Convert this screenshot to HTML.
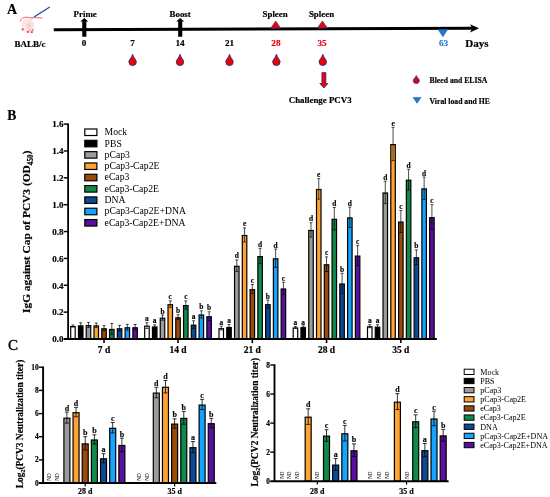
<!DOCTYPE html>
<html><head><meta charset="utf-8"><title>Figure</title>
<style>html,body{margin:0;padding:0;background:#fff}svg{display:block}</style></head>
<body><svg width="550" height="497" viewBox="0 0 550 497" font-family="'Liberation Serif', serif" fill="#000">
<rect width="550" height="497" fill="#fff"/>
<rect x="70.70" y="326.60" width="4.50" height="12.40" fill="#ffffff" stroke="#000" stroke-width="1.2"/>
<path d="M72.95 325.00V327.00M71.45 325.00h3.0M71.45 327.00h3.0" stroke="#000" stroke-width="0.7" fill="none"/>
<rect x="78.47" y="325.90" width="4.50" height="13.10" fill="#000000" stroke="#000" stroke-width="1.2"/>
<path d="M80.72 322.80V327.80M79.22 322.80h3.0M79.22 327.80h3.0" stroke="#000" stroke-width="0.7" fill="none"/>
<rect x="86.24" y="325.60" width="4.50" height="13.40" fill="#9c9c9c" stroke="#000" stroke-width="1.2"/>
<path d="M88.49 322.40V327.60M86.99 322.40h3.0M86.99 327.60h3.0" stroke="#000" stroke-width="0.7" fill="none"/>
<rect x="94.01" y="325.90" width="4.50" height="13.10" fill="#ffa433" stroke="#000" stroke-width="1.2"/>
<path d="M96.26 323.10V327.50M94.76 323.10h3.0M94.76 327.50h3.0" stroke="#000" stroke-width="0.7" fill="none"/>
<rect x="101.78" y="328.80" width="4.50" height="10.20" fill="#9c4a0a" stroke="#000" stroke-width="1.2"/>
<path d="M104.03 325.60V330.80M102.53 325.60h3.0M102.53 330.80h3.0" stroke="#000" stroke-width="0.7" fill="none"/>
<rect x="109.55" y="329.50" width="4.50" height="9.50" fill="#10894a" stroke="#000" stroke-width="1.2"/>
<path d="M111.80 323.40V334.40M110.30 323.40h3.0M110.30 334.40h3.0" stroke="#000" stroke-width="0.7" fill="none"/>
<rect x="117.32" y="328.80" width="4.50" height="10.20" fill="#0d4a94" stroke="#000" stroke-width="1.2"/>
<path d="M119.57 325.30V331.10M118.07 325.30h3.0M118.07 331.10h3.0" stroke="#000" stroke-width="0.7" fill="none"/>
<rect x="125.09" y="327.80" width="4.50" height="11.20" fill="#14a3ff" stroke="#000" stroke-width="1.2"/>
<path d="M127.34 324.30V330.10M125.84 324.30h3.0M125.84 330.10h3.0" stroke="#000" stroke-width="0.7" fill="none"/>
<rect x="132.86" y="327.80" width="4.50" height="11.20" fill="#5a0fa0" stroke="#000" stroke-width="1.2"/>
<path d="M135.11 324.50V329.90M133.61 324.50h3.0M133.61 329.90h3.0" stroke="#000" stroke-width="0.7" fill="none"/>
<rect x="144.70" y="326.20" width="4.50" height="12.80" fill="#ffffff" stroke="#000" stroke-width="1.2"/>
<path d="M146.95 322.70V328.50M145.45 322.70h3.0M145.45 328.50h3.0" stroke="#000" stroke-width="0.7" fill="none"/>
<text x="146.95" y="321.20" font-size="7.4" font-weight="bold" text-anchor="middle" stroke="#000" stroke-width="0.15">a</text>
<rect x="152.47" y="327.00" width="4.50" height="12.00" fill="#000000" stroke="#000" stroke-width="1.2"/>
<path d="M154.72 324.90V327.90M153.22 324.90h3.0M153.22 327.90h3.0" stroke="#000" stroke-width="0.7" fill="none"/>
<text x="154.72" y="323.40" font-size="7.4" font-weight="bold" text-anchor="middle" stroke="#000" stroke-width="0.15">a</text>
<rect x="160.24" y="318.20" width="4.50" height="20.80" fill="#9c9c9c" stroke="#000" stroke-width="1.2"/>
<path d="M162.49 315.00V320.20M160.99 315.00h3.0M160.99 320.20h3.0" stroke="#000" stroke-width="0.7" fill="none"/>
<text x="162.49" y="313.50" font-size="7.4" font-weight="bold" text-anchor="middle" stroke="#000" stroke-width="0.15">b</text>
<rect x="168.01" y="304.70" width="4.50" height="34.30" fill="#ffa433" stroke="#000" stroke-width="1.2"/>
<path d="M170.26 300.90V307.30M168.76 300.90h3.0M168.76 307.30h3.0" stroke="#000" stroke-width="0.7" fill="none"/>
<text x="170.26" y="299.40" font-size="7.4" font-weight="bold" text-anchor="middle" stroke="#000" stroke-width="0.15">c</text>
<rect x="175.78" y="317.80" width="4.50" height="21.20" fill="#9c4a0a" stroke="#000" stroke-width="1.2"/>
<path d="M178.03 314.70V319.70M176.53 314.70h3.0M176.53 319.70h3.0" stroke="#000" stroke-width="0.7" fill="none"/>
<text x="178.03" y="313.20" font-size="7.4" font-weight="bold" text-anchor="middle" stroke="#000" stroke-width="0.15">b</text>
<rect x="183.55" y="305.60" width="4.50" height="33.40" fill="#10894a" stroke="#000" stroke-width="1.2"/>
<path d="M185.80 300.90V309.10M184.30 300.90h3.0M184.30 309.10h3.0" stroke="#000" stroke-width="0.7" fill="none"/>
<text x="185.80" y="299.40" font-size="7.4" font-weight="bold" text-anchor="middle" stroke="#000" stroke-width="0.15">c</text>
<rect x="191.32" y="325.20" width="4.50" height="13.80" fill="#0d4a94" stroke="#000" stroke-width="1.2"/>
<path d="M193.57 320.80V328.40M192.07 320.80h3.0M192.07 328.40h3.0" stroke="#000" stroke-width="0.7" fill="none"/>
<text x="193.57" y="319.30" font-size="7.4" font-weight="bold" text-anchor="middle" stroke="#000" stroke-width="0.15">a</text>
<rect x="199.09" y="315.00" width="4.50" height="24.00" fill="#14a3ff" stroke="#000" stroke-width="1.2"/>
<path d="M201.34 310.80V318.00M199.84 310.80h3.0M199.84 318.00h3.0" stroke="#000" stroke-width="0.7" fill="none"/>
<text x="201.34" y="309.30" font-size="7.4" font-weight="bold" text-anchor="middle" stroke="#000" stroke-width="0.15">b</text>
<rect x="206.86" y="316.80" width="4.50" height="22.20" fill="#5a0fa0" stroke="#000" stroke-width="1.2"/>
<path d="M209.11 311.80V320.60M207.61 311.80h3.0M207.61 320.60h3.0" stroke="#000" stroke-width="0.7" fill="none"/>
<text x="209.11" y="310.30" font-size="7.4" font-weight="bold" text-anchor="middle" stroke="#000" stroke-width="0.15">b</text>
<rect x="219.00" y="328.70" width="4.50" height="10.30" fill="#ffffff" stroke="#000" stroke-width="1.2"/>
<path d="M221.25 326.20V330.00M219.75 326.20h3.0M219.75 330.00h3.0" stroke="#000" stroke-width="0.7" fill="none"/>
<text x="221.25" y="324.70" font-size="7.4" font-weight="bold" text-anchor="middle" stroke="#000" stroke-width="0.15">a</text>
<rect x="226.77" y="327.50" width="4.50" height="11.50" fill="#000000" stroke="#000" stroke-width="1.2"/>
<path d="M229.02 324.50V329.30M227.52 324.50h3.0M227.52 329.30h3.0" stroke="#000" stroke-width="0.7" fill="none"/>
<text x="229.02" y="323.00" font-size="7.4" font-weight="bold" text-anchor="middle" stroke="#000" stroke-width="0.15">a</text>
<rect x="234.54" y="266.30" width="4.50" height="72.70" fill="#9c9c9c" stroke="#000" stroke-width="1.2"/>
<path d="M236.79 259.90V271.50M235.29 259.90h3.0M235.29 271.50h3.0" stroke="#000" stroke-width="0.7" fill="none"/>
<text x="236.79" y="258.40" font-size="7.4" font-weight="bold" text-anchor="middle" stroke="#000" stroke-width="0.15">d</text>
<rect x="242.31" y="235.50" width="4.50" height="103.50" fill="#ffa433" stroke="#000" stroke-width="1.2"/>
<path d="M244.56 227.90V241.90M243.06 227.90h3.0M243.06 241.90h3.0" stroke="#000" stroke-width="0.7" fill="none"/>
<text x="244.56" y="226.40" font-size="7.4" font-weight="bold" text-anchor="middle" stroke="#000" stroke-width="0.15">e</text>
<rect x="250.08" y="289.70" width="4.50" height="49.30" fill="#9c4a0a" stroke="#000" stroke-width="1.2"/>
<path d="M252.33 284.50V293.70M250.83 284.50h3.0M250.83 293.70h3.0" stroke="#000" stroke-width="0.7" fill="none"/>
<text x="252.33" y="283.00" font-size="7.4" font-weight="bold" text-anchor="middle" stroke="#000" stroke-width="0.15">c</text>
<rect x="257.85" y="256.60" width="4.50" height="82.40" fill="#10894a" stroke="#000" stroke-width="1.2"/>
<path d="M260.10 248.30V263.70M258.60 248.30h3.0M258.60 263.70h3.0" stroke="#000" stroke-width="0.7" fill="none"/>
<text x="260.10" y="246.80" font-size="7.4" font-weight="bold" text-anchor="middle" stroke="#000" stroke-width="0.15">d</text>
<rect x="265.62" y="304.70" width="4.50" height="34.30" fill="#0d4a94" stroke="#000" stroke-width="1.2"/>
<path d="M267.87 300.00V308.20M266.37 300.00h3.0M266.37 308.20h3.0" stroke="#000" stroke-width="0.7" fill="none"/>
<text x="267.87" y="298.50" font-size="7.4" font-weight="bold" text-anchor="middle" stroke="#000" stroke-width="0.15">b</text>
<rect x="273.39" y="258.80" width="4.50" height="80.20" fill="#14a3ff" stroke="#000" stroke-width="1.2"/>
<path d="M275.64 249.00V267.40M274.14 249.00h3.0M274.14 267.40h3.0" stroke="#000" stroke-width="0.7" fill="none"/>
<text x="275.64" y="247.50" font-size="7.4" font-weight="bold" text-anchor="middle" stroke="#000" stroke-width="0.15">d</text>
<rect x="281.16" y="289.00" width="4.50" height="50.00" fill="#5a0fa0" stroke="#000" stroke-width="1.2"/>
<path d="M283.41 282.30V294.50M281.91 282.30h3.0M281.91 294.50h3.0" stroke="#000" stroke-width="0.7" fill="none"/>
<text x="283.41" y="280.80" font-size="7.4" font-weight="bold" text-anchor="middle" stroke="#000" stroke-width="0.15">c</text>
<rect x="293.20" y="328.00" width="4.50" height="11.00" fill="#ffffff" stroke="#000" stroke-width="1.2"/>
<path d="M295.45 326.40V328.40M293.95 326.40h3.0M293.95 328.40h3.0" stroke="#000" stroke-width="0.7" fill="none"/>
<text x="295.45" y="324.90" font-size="7.4" font-weight="bold" text-anchor="middle" stroke="#000" stroke-width="0.15">a</text>
<rect x="300.97" y="327.70" width="4.50" height="11.30" fill="#000000" stroke="#000" stroke-width="1.2"/>
<path d="M303.22 326.00V328.20M301.72 326.00h3.0M301.72 328.20h3.0" stroke="#000" stroke-width="0.7" fill="none"/>
<text x="303.22" y="324.50" font-size="7.4" font-weight="bold" text-anchor="middle" stroke="#000" stroke-width="0.15">a</text>
<rect x="308.74" y="230.50" width="4.50" height="108.50" fill="#9c9c9c" stroke="#000" stroke-width="1.2"/>
<path d="M310.99 222.70V237.10M309.49 222.70h3.0M309.49 237.10h3.0" stroke="#000" stroke-width="0.7" fill="none"/>
<text x="310.99" y="221.20" font-size="7.4" font-weight="bold" text-anchor="middle" stroke="#000" stroke-width="0.15">d</text>
<rect x="316.51" y="189.50" width="4.50" height="149.50" fill="#ffa433" stroke="#000" stroke-width="1.2"/>
<path d="M318.76 178.70V199.10M317.26 178.70h3.0M317.26 199.10h3.0" stroke="#000" stroke-width="0.7" fill="none"/>
<text x="318.76" y="177.20" font-size="7.4" font-weight="bold" text-anchor="middle" stroke="#000" stroke-width="0.15">e</text>
<rect x="324.28" y="264.80" width="4.50" height="74.20" fill="#9c4a0a" stroke="#000" stroke-width="1.2"/>
<path d="M326.53 256.90V271.50M325.03 256.90h3.0M325.03 271.50h3.0" stroke="#000" stroke-width="0.7" fill="none"/>
<text x="326.53" y="255.40" font-size="7.4" font-weight="bold" text-anchor="middle" stroke="#000" stroke-width="0.15">c</text>
<rect x="332.05" y="219.30" width="4.50" height="119.70" fill="#10894a" stroke="#000" stroke-width="1.2"/>
<path d="M334.30 207.50V229.90M332.80 207.50h3.0M332.80 229.90h3.0" stroke="#000" stroke-width="0.7" fill="none"/>
<text x="334.30" y="206.00" font-size="7.4" font-weight="bold" text-anchor="middle" stroke="#000" stroke-width="0.15">d</text>
<rect x="339.82" y="284.00" width="4.50" height="55.00" fill="#0d4a94" stroke="#000" stroke-width="1.2"/>
<path d="M342.07 273.30V293.50M340.57 273.30h3.0M340.57 293.50h3.0" stroke="#000" stroke-width="0.7" fill="none"/>
<text x="342.07" y="271.80" font-size="7.4" font-weight="bold" text-anchor="middle" stroke="#000" stroke-width="0.15">b</text>
<rect x="347.59" y="217.90" width="4.50" height="121.10" fill="#14a3ff" stroke="#000" stroke-width="1.2"/>
<path d="M349.84 207.10V227.50M348.34 207.10h3.0M348.34 227.50h3.0" stroke="#000" stroke-width="0.7" fill="none"/>
<text x="349.84" y="205.60" font-size="7.4" font-weight="bold" text-anchor="middle" stroke="#000" stroke-width="0.15">d</text>
<rect x="355.36" y="256.10" width="4.50" height="82.90" fill="#5a0fa0" stroke="#000" stroke-width="1.2"/>
<path d="M357.61 245.30V265.70M356.11 245.30h3.0M356.11 265.70h3.0" stroke="#000" stroke-width="0.7" fill="none"/>
<text x="357.61" y="243.80" font-size="7.4" font-weight="bold" text-anchor="middle" stroke="#000" stroke-width="0.15">c</text>
<rect x="367.50" y="326.80" width="4.50" height="12.20" fill="#ffffff" stroke="#000" stroke-width="1.2"/>
<path d="M369.75 324.70V327.70M368.25 324.70h3.0M368.25 327.70h3.0" stroke="#000" stroke-width="0.7" fill="none"/>
<text x="369.75" y="323.20" font-size="7.4" font-weight="bold" text-anchor="middle" stroke="#000" stroke-width="0.15">a</text>
<rect x="375.27" y="327.20" width="4.50" height="11.80" fill="#000000" stroke="#000" stroke-width="1.2"/>
<path d="M377.52 324.70V328.50M376.02 324.70h3.0M376.02 328.50h3.0" stroke="#000" stroke-width="0.7" fill="none"/>
<text x="377.52" y="323.20" font-size="7.4" font-weight="bold" text-anchor="middle" stroke="#000" stroke-width="0.15">a</text>
<rect x="383.04" y="193.00" width="4.50" height="146.00" fill="#9c9c9c" stroke="#000" stroke-width="1.2"/>
<path d="M385.29 181.20V203.60M383.79 181.20h3.0M383.79 203.60h3.0" stroke="#000" stroke-width="0.7" fill="none"/>
<text x="385.29" y="179.70" font-size="7.4" font-weight="bold" text-anchor="middle" stroke="#000" stroke-width="0.15">d</text>
<rect x="390.81" y="144.60" width="4.50" height="194.40" fill="#ffa433" stroke="#000" stroke-width="1.2"/>
<path d="M393.06 127.30V160.70M391.56 127.30h3.0M391.56 160.70h3.0" stroke="#000" stroke-width="0.7" fill="none"/>
<text x="393.06" y="125.80" font-size="7.4" font-weight="bold" text-anchor="middle" stroke="#000" stroke-width="0.15">e</text>
<rect x="398.58" y="222.10" width="4.50" height="116.90" fill="#9c4a0a" stroke="#000" stroke-width="1.2"/>
<path d="M400.83 210.50V232.50M399.33 210.50h3.0M399.33 232.50h3.0" stroke="#000" stroke-width="0.7" fill="none"/>
<text x="400.83" y="209.00" font-size="7.4" font-weight="bold" text-anchor="middle" stroke="#000" stroke-width="0.15">c</text>
<rect x="406.35" y="180.20" width="4.50" height="158.80" fill="#10894a" stroke="#000" stroke-width="1.2"/>
<path d="M408.60 169.20V190.00M407.10 169.20h3.0M407.10 190.00h3.0" stroke="#000" stroke-width="0.7" fill="none"/>
<text x="408.60" y="167.70" font-size="7.4" font-weight="bold" text-anchor="middle" stroke="#000" stroke-width="0.15">d</text>
<rect x="414.12" y="257.80" width="4.50" height="81.20" fill="#0d4a94" stroke="#000" stroke-width="1.2"/>
<path d="M416.37 249.90V264.50M414.87 249.90h3.0M414.87 264.50h3.0" stroke="#000" stroke-width="0.7" fill="none"/>
<text x="416.37" y="248.40" font-size="7.4" font-weight="bold" text-anchor="middle" stroke="#000" stroke-width="0.15">b</text>
<rect x="421.89" y="188.90" width="4.50" height="150.10" fill="#14a3ff" stroke="#000" stroke-width="1.2"/>
<path d="M424.14 177.00V199.60M422.64 177.00h3.0M422.64 199.60h3.0" stroke="#000" stroke-width="0.7" fill="none"/>
<text x="424.14" y="175.50" font-size="7.4" font-weight="bold" text-anchor="middle" stroke="#000" stroke-width="0.15">d</text>
<rect x="429.66" y="217.70" width="4.50" height="121.30" fill="#5a0fa0" stroke="#000" stroke-width="1.2"/>
<path d="M431.91 204.70V229.50M430.41 204.70h3.0M430.41 229.50h3.0" stroke="#000" stroke-width="0.7" fill="none"/>
<text x="431.91" y="203.20" font-size="7.4" font-weight="bold" text-anchor="middle" stroke="#000" stroke-width="0.15">c</text>
<path d="M68.1 123.4V339" stroke="#000" stroke-width="1.8" fill="none"/>
<path d="M63.7 339H436.8" stroke="#000" stroke-width="1.8" fill="none"/>
<text x="63.4" y="342.30" font-size="9" font-weight="bold" text-anchor="end" stroke="#000" stroke-width="0.18">0.0</text>
<path d="M63.7 312.14H68" stroke="#000" stroke-width="1.45"/>
<text x="63.4" y="315.44" font-size="9" font-weight="bold" text-anchor="end" stroke="#000" stroke-width="0.18">0.2</text>
<path d="M63.7 285.27H68" stroke="#000" stroke-width="1.45"/>
<text x="63.4" y="288.57" font-size="9" font-weight="bold" text-anchor="end" stroke="#000" stroke-width="0.18">0.4</text>
<path d="M63.7 258.41H68" stroke="#000" stroke-width="1.45"/>
<text x="63.4" y="261.71" font-size="9" font-weight="bold" text-anchor="end" stroke="#000" stroke-width="0.18">0.6</text>
<path d="M63.7 231.55H68" stroke="#000" stroke-width="1.45"/>
<text x="63.4" y="234.85" font-size="9" font-weight="bold" text-anchor="end" stroke="#000" stroke-width="0.18">0.8</text>
<path d="M63.7 204.69H68" stroke="#000" stroke-width="1.45"/>
<text x="63.4" y="207.99" font-size="9" font-weight="bold" text-anchor="end" stroke="#000" stroke-width="0.18">1.0</text>
<path d="M63.7 177.82H68" stroke="#000" stroke-width="1.45"/>
<text x="63.4" y="181.12" font-size="9" font-weight="bold" text-anchor="end" stroke="#000" stroke-width="0.18">1.2</text>
<path d="M63.7 150.96H68" stroke="#000" stroke-width="1.45"/>
<text x="63.4" y="154.26" font-size="9" font-weight="bold" text-anchor="end" stroke="#000" stroke-width="0.18">1.4</text>
<path d="M63.7 124.10H68" stroke="#000" stroke-width="1.45"/>
<text x="63.4" y="127.40" font-size="9" font-weight="bold" text-anchor="end" stroke="#000" stroke-width="0.18">1.6</text>
<path d="M104.03 339V343.1" stroke="#000" stroke-width="1.6"/>
<text x="104.03" y="353" font-size="9.5" font-weight="bold" text-anchor="middle" stroke="#000" stroke-width="0.18">7 d</text>
<path d="M178.03 339V343.1" stroke="#000" stroke-width="1.6"/>
<text x="178.03" y="353" font-size="9.5" font-weight="bold" text-anchor="middle" stroke="#000" stroke-width="0.18">14 d</text>
<path d="M252.33 339V343.1" stroke="#000" stroke-width="1.6"/>
<text x="252.33" y="353" font-size="9.5" font-weight="bold" text-anchor="middle" stroke="#000" stroke-width="0.18">21 d</text>
<path d="M326.53 339V343.1" stroke="#000" stroke-width="1.6"/>
<text x="326.53" y="353" font-size="9.5" font-weight="bold" text-anchor="middle" stroke="#000" stroke-width="0.18">28 d</text>
<path d="M400.83 339V343.1" stroke="#000" stroke-width="1.6"/>
<text x="400.83" y="353" font-size="9.5" font-weight="bold" text-anchor="middle" stroke="#000" stroke-width="0.18">35 d</text>
<text transform="translate(30.4 313) rotate(-90)" font-size="11.4" font-weight="bold" stroke="#000" stroke-width="0.18">IgG against Cap of PCV3 (OD<tspan font-size="7.3" dy="2.2">450</tspan><tspan dy="-2.2">)</tspan></text>
<rect x="84.8" y="129.00" width="12.1" height="6.5" fill="#ffffff" stroke="#000" stroke-width="1.2"/>
<text x="104.6" y="135.20" font-size="9.7">Mock</text>
<rect x="84.8" y="140.32" width="12.1" height="6.5" fill="#000000" stroke="#000" stroke-width="1.2"/>
<text x="104.6" y="146.52" font-size="9.7">PBS</text>
<rect x="84.8" y="151.64" width="12.1" height="6.5" fill="#9c9c9c" stroke="#000" stroke-width="1.2"/>
<text x="104.6" y="157.84" font-size="9.7">pCap3</text>
<rect x="84.8" y="162.96" width="12.1" height="6.5" fill="#ffa433" stroke="#000" stroke-width="1.2"/>
<text x="104.6" y="169.16" font-size="9.7">pCap3-Cap2E</text>
<rect x="84.8" y="174.28" width="12.1" height="6.5" fill="#9c4a0a" stroke="#000" stroke-width="1.2"/>
<text x="104.6" y="180.48" font-size="9.7">eCap3</text>
<rect x="84.8" y="185.60" width="12.1" height="6.5" fill="#10894a" stroke="#000" stroke-width="1.2"/>
<text x="104.6" y="191.80" font-size="9.7">eCap3-Cap2E</text>
<rect x="84.8" y="196.92" width="12.1" height="6.5" fill="#0d4a94" stroke="#000" stroke-width="1.2"/>
<text x="104.6" y="203.12" font-size="9.7">DNA</text>
<rect x="84.8" y="208.24" width="12.1" height="6.5" fill="#14a3ff" stroke="#000" stroke-width="1.2"/>
<text x="104.6" y="214.44" font-size="9.7">pCap3-Cap2E+DNA</text>
<rect x="84.8" y="219.56" width="12.1" height="6.5" fill="#5a0fa0" stroke="#000" stroke-width="1.2"/>
<text x="104.6" y="225.76" font-size="9.7">eCap3-Cap2E+DNA</text>
<text transform="translate(51.20 480.70) rotate(-90)" font-size="5.2">ND</text>
<text transform="translate(59.20 480.70) rotate(-90)" font-size="5.2">ND</text>
<rect x="63.90" y="418.20" width="6.00" height="64.80" fill="#9c9c9c" stroke="#000" stroke-width="1.2"/>
<path d="M66.90 412.10V423.10M64.90 412.10h4.0M64.90 423.10h4.0" stroke="#000" stroke-width="0.8" fill="none"/>
<text x="66.90" y="410.60" font-size="8" font-weight="bold" text-anchor="middle" stroke="#000" stroke-width="0.15">d</text>
<rect x="73.06" y="412.70" width="6.00" height="70.30" fill="#ffa433" stroke="#000" stroke-width="1.2"/>
<path d="M76.06 407.40V416.80M74.06 407.40h4.0M74.06 416.80h4.0" stroke="#000" stroke-width="0.8" fill="none"/>
<text x="76.06" y="405.90" font-size="8" font-weight="bold" text-anchor="middle" stroke="#000" stroke-width="0.15">d</text>
<rect x="82.22" y="443.90" width="6.00" height="39.10" fill="#9c4a0a" stroke="#000" stroke-width="1.2"/>
<path d="M85.22 436.70V449.90M83.22 436.70h4.0M83.22 449.90h4.0" stroke="#000" stroke-width="0.8" fill="none"/>
<text x="85.22" y="435.20" font-size="8" font-weight="bold" text-anchor="middle" stroke="#000" stroke-width="0.15">b</text>
<rect x="91.38" y="440.00" width="6.00" height="43.00" fill="#10894a" stroke="#000" stroke-width="1.2"/>
<path d="M94.38 434.80V444.00M92.38 434.80h4.0M92.38 444.00h4.0" stroke="#000" stroke-width="0.8" fill="none"/>
<text x="94.38" y="433.30" font-size="8" font-weight="bold" text-anchor="middle" stroke="#000" stroke-width="0.15">b</text>
<rect x="100.54" y="458.80" width="6.00" height="24.20" fill="#0d4a94" stroke="#000" stroke-width="1.2"/>
<path d="M103.54 453.70V462.70M101.54 453.70h4.0M101.54 462.70h4.0" stroke="#000" stroke-width="0.8" fill="none"/>
<text x="103.54" y="452.20" font-size="8" font-weight="bold" text-anchor="middle" stroke="#000" stroke-width="0.15">a</text>
<rect x="109.70" y="428.30" width="6.00" height="54.70" fill="#14a3ff" stroke="#000" stroke-width="1.2"/>
<path d="M112.70 422.50V432.90M110.70 422.50h4.0M110.70 432.90h4.0" stroke="#000" stroke-width="0.8" fill="none"/>
<text x="112.70" y="421.00" font-size="8" font-weight="bold" text-anchor="middle" stroke="#000" stroke-width="0.15">c</text>
<rect x="118.86" y="445.50" width="6.00" height="37.50" fill="#5a0fa0" stroke="#000" stroke-width="1.2"/>
<path d="M121.86 438.10V451.70M119.86 438.10h4.0M119.86 451.70h4.0" stroke="#000" stroke-width="0.8" fill="none"/>
<text x="121.86" y="436.60" font-size="8" font-weight="bold" text-anchor="middle" stroke="#000" stroke-width="0.15">b</text>
<path d="M85.22 483.0V486.4" stroke="#000" stroke-width="1.2"/>
<text x="85.22" y="494.3" font-size="8" font-weight="bold" text-anchor="middle" stroke="#000" stroke-width="0.18">28 d</text>
<text transform="translate(140.60 480.70) rotate(-90)" font-size="5.2">ND</text>
<text transform="translate(149.00 480.70) rotate(-90)" font-size="5.2">ND</text>
<rect x="153.30" y="393.10" width="6.00" height="89.90" fill="#9c9c9c" stroke="#000" stroke-width="1.2"/>
<path d="M156.30 387.30V397.70M154.30 387.30h4.0M154.30 397.70h4.0" stroke="#000" stroke-width="0.8" fill="none"/>
<text x="156.30" y="385.80" font-size="8" font-weight="bold" text-anchor="middle" stroke="#000" stroke-width="0.15">d</text>
<rect x="162.46" y="387.30" width="6.00" height="95.70" fill="#ffa433" stroke="#000" stroke-width="1.2"/>
<path d="M165.46 380.50V392.90M163.46 380.50h4.0M163.46 392.90h4.0" stroke="#000" stroke-width="0.8" fill="none"/>
<text x="165.46" y="379.00" font-size="8" font-weight="bold" text-anchor="middle" stroke="#000" stroke-width="0.15">d</text>
<rect x="171.62" y="424.10" width="6.00" height="58.90" fill="#9c4a0a" stroke="#000" stroke-width="1.2"/>
<path d="M174.62 418.80V428.20M172.62 418.80h4.0M172.62 428.20h4.0" stroke="#000" stroke-width="0.8" fill="none"/>
<text x="174.62" y="417.30" font-size="8" font-weight="bold" text-anchor="middle" stroke="#000" stroke-width="0.15">b</text>
<rect x="180.78" y="418.40" width="6.00" height="64.60" fill="#10894a" stroke="#000" stroke-width="1.2"/>
<path d="M183.78 411.40V424.20M181.78 411.40h4.0M181.78 424.20h4.0" stroke="#000" stroke-width="0.8" fill="none"/>
<text x="183.78" y="409.90" font-size="8" font-weight="bold" text-anchor="middle" stroke="#000" stroke-width="0.15">b</text>
<rect x="189.94" y="447.70" width="6.00" height="35.30" fill="#0d4a94" stroke="#000" stroke-width="1.2"/>
<path d="M192.94 441.60V452.60M190.94 441.60h4.0M190.94 452.60h4.0" stroke="#000" stroke-width="0.8" fill="none"/>
<text x="192.94" y="440.10" font-size="8" font-weight="bold" text-anchor="middle" stroke="#000" stroke-width="0.15">a</text>
<rect x="199.10" y="405.10" width="6.00" height="77.90" fill="#14a3ff" stroke="#000" stroke-width="1.2"/>
<path d="M202.10 399.40V409.60M200.10 399.40h4.0M200.10 409.60h4.0" stroke="#000" stroke-width="0.8" fill="none"/>
<text x="202.10" y="397.90" font-size="8" font-weight="bold" text-anchor="middle" stroke="#000" stroke-width="0.15">c</text>
<rect x="208.26" y="423.70" width="6.00" height="59.30" fill="#5a0fa0" stroke="#000" stroke-width="1.2"/>
<path d="M211.26 418.40V427.80M209.26 418.40h4.0M209.26 427.80h4.0" stroke="#000" stroke-width="0.8" fill="none"/>
<text x="211.26" y="416.90" font-size="8" font-weight="bold" text-anchor="middle" stroke="#000" stroke-width="0.15">b</text>
<path d="M174.62 483.0V486.4" stroke="#000" stroke-width="1.2"/>
<text x="174.62" y="494.3" font-size="8" font-weight="bold" text-anchor="middle" stroke="#000" stroke-width="0.18">35 d</text>
<path d="M43.1 366.5V483.0" stroke="#000" stroke-width="1.9" fill="none"/>
<path d="M38.9 483.0H216.3" stroke="#000" stroke-width="1.9" fill="none"/>
<path d="M38.9 367.20H43.1" stroke="#000" stroke-width="1.4"/>
<text x="38.60" y="369.75" font-size="7.4" font-weight="bold" text-anchor="end" stroke="#000" stroke-width="0.18">10</text>
<path d="M38.9 390.40H43.1" stroke="#000" stroke-width="1.4"/>
<text x="38.60" y="392.95" font-size="7.4" font-weight="bold" text-anchor="end" stroke="#000" stroke-width="0.18">8</text>
<path d="M38.9 413.60H43.1" stroke="#000" stroke-width="1.4"/>
<text x="38.60" y="416.15" font-size="7.4" font-weight="bold" text-anchor="end" stroke="#000" stroke-width="0.18">6</text>
<path d="M38.9 436.70H43.1" stroke="#000" stroke-width="1.4"/>
<text x="38.60" y="439.25" font-size="7.4" font-weight="bold" text-anchor="end" stroke="#000" stroke-width="0.18">4</text>
<path d="M38.9 459.90H43.1" stroke="#000" stroke-width="1.4"/>
<text x="38.60" y="462.45" font-size="7.4" font-weight="bold" text-anchor="end" stroke="#000" stroke-width="0.18">2</text>
<text x="38.60" y="485.65" font-size="7.4" font-weight="bold" text-anchor="end" stroke="#000" stroke-width="0.18">0</text>
<text transform="translate(23.0 488.2) rotate(-90)" font-size="9.38" font-weight="bold" stroke="#000" stroke-width="0.18">Log<tspan font-size="6" dy="1.8">2</tspan><tspan dy="-1.8">(PCV3 Neutralization titer)</tspan></text>
<text transform="translate(283.60 478.90) rotate(-90)" font-size="5.2">ND</text>
<text transform="translate(291.10 478.90) rotate(-90)" font-size="5.2">ND</text>
<text transform="translate(298.90 478.90) rotate(-90)" font-size="5.2">ND</text>
<rect x="305.18" y="417.20" width="6.00" height="64.00" fill="#ffa433" stroke="#000" stroke-width="1.2"/>
<path d="M308.18 408.80V424.40M306.18 408.80h4.0M306.18 424.40h4.0" stroke="#000" stroke-width="0.8" fill="none"/>
<text x="308.18" y="407.30" font-size="8" font-weight="bold" text-anchor="middle" stroke="#000" stroke-width="0.15">d</text>
<text transform="translate(319.00 478.90) rotate(-90)" font-size="5.2">ND</text>
<rect x="323.50" y="436.10" width="6.00" height="45.10" fill="#10894a" stroke="#000" stroke-width="1.2"/>
<path d="M326.50 429.70V441.30M324.50 429.70h4.0M324.50 441.30h4.0" stroke="#000" stroke-width="0.8" fill="none"/>
<text x="326.50" y="428.20" font-size="8" font-weight="bold" text-anchor="middle" stroke="#000" stroke-width="0.15">c</text>
<rect x="332.66" y="465.10" width="6.00" height="16.10" fill="#0d4a94" stroke="#000" stroke-width="1.2"/>
<path d="M335.66 458.60V470.40M333.66 458.60h4.0M333.66 470.40h4.0" stroke="#000" stroke-width="0.8" fill="none"/>
<text x="335.66" y="457.10" font-size="8" font-weight="bold" text-anchor="middle" stroke="#000" stroke-width="0.15">a</text>
<rect x="341.82" y="433.80" width="6.00" height="47.40" fill="#14a3ff" stroke="#000" stroke-width="1.2"/>
<path d="M344.82 425.40V441.00M342.82 425.40h4.0M342.82 441.00h4.0" stroke="#000" stroke-width="0.8" fill="none"/>
<text x="344.82" y="423.90" font-size="8" font-weight="bold" text-anchor="middle" stroke="#000" stroke-width="0.15">c</text>
<rect x="350.98" y="450.80" width="6.00" height="30.40" fill="#5a0fa0" stroke="#000" stroke-width="1.2"/>
<path d="M353.98 443.90V456.50M351.98 443.90h4.0M351.98 456.50h4.0" stroke="#000" stroke-width="0.8" fill="none"/>
<text x="353.98" y="442.40" font-size="8" font-weight="bold" text-anchor="middle" stroke="#000" stroke-width="0.15">b</text>
<path d="M317.34 481.2V484.59999999999997" stroke="#000" stroke-width="1.2"/>
<text x="317.34" y="494.3" font-size="8" font-weight="bold" text-anchor="middle" stroke="#000" stroke-width="0.18">28 d</text>
<text transform="translate(372.10 478.90) rotate(-90)" font-size="5.2">ND</text>
<text transform="translate(380.80 478.90) rotate(-90)" font-size="5.2">ND</text>
<text transform="translate(389.20 478.90) rotate(-90)" font-size="5.2">ND</text>
<rect x="394.38" y="402.20" width="6.00" height="79.00" fill="#ffa433" stroke="#000" stroke-width="1.2"/>
<path d="M397.38 393.60V409.60M395.38 393.60h4.0M395.38 409.60h4.0" stroke="#000" stroke-width="0.8" fill="none"/>
<text x="397.38" y="392.10" font-size="8" font-weight="bold" text-anchor="middle" stroke="#000" stroke-width="0.15">d</text>
<text transform="translate(408.50 478.90) rotate(-90)" font-size="5.2">ND</text>
<rect x="412.70" y="421.80" width="6.00" height="59.40" fill="#10894a" stroke="#000" stroke-width="1.2"/>
<path d="M415.70 414.80V427.60M413.70 414.80h4.0M413.70 427.60h4.0" stroke="#000" stroke-width="0.8" fill="none"/>
<text x="415.70" y="413.30" font-size="8" font-weight="bold" text-anchor="middle" stroke="#000" stroke-width="0.15">c</text>
<rect x="421.86" y="450.70" width="6.00" height="30.50" fill="#0d4a94" stroke="#000" stroke-width="1.2"/>
<path d="M424.86 443.50V456.70M422.86 443.50h4.0M422.86 456.70h4.0" stroke="#000" stroke-width="0.8" fill="none"/>
<text x="424.86" y="442.00" font-size="8" font-weight="bold" text-anchor="middle" stroke="#000" stroke-width="0.15">a</text>
<rect x="431.02" y="419.00" width="6.00" height="62.20" fill="#14a3ff" stroke="#000" stroke-width="1.2"/>
<path d="M434.02 411.10V425.70M432.02 411.10h4.0M432.02 425.70h4.0" stroke="#000" stroke-width="0.8" fill="none"/>
<text x="434.02" y="409.60" font-size="8" font-weight="bold" text-anchor="middle" stroke="#000" stroke-width="0.15">c</text>
<rect x="440.18" y="435.90" width="6.00" height="45.30" fill="#5a0fa0" stroke="#000" stroke-width="1.2"/>
<path d="M443.18 429.40V441.20M441.18 429.40h4.0M441.18 441.20h4.0" stroke="#000" stroke-width="0.8" fill="none"/>
<text x="443.18" y="427.90" font-size="8" font-weight="bold" text-anchor="middle" stroke="#000" stroke-width="0.15">b</text>
<path d="M406.54 481.2V484.59999999999997" stroke="#000" stroke-width="1.2"/>
<text x="406.54" y="494.3" font-size="8" font-weight="bold" text-anchor="middle" stroke="#000" stroke-width="0.18">35 d</text>
<path d="M274.5 364.3V481.2" stroke="#000" stroke-width="1.9" fill="none"/>
<path d="M270.3 481.2H448.6" stroke="#000" stroke-width="1.9" fill="none"/>
<path d="M270.3 365.00H274.5" stroke="#000" stroke-width="1.4"/>
<text x="270.00" y="367.55" font-size="7.4" font-weight="bold" text-anchor="end" stroke="#000" stroke-width="0.18">8</text>
<path d="M270.3 394.05H274.5" stroke="#000" stroke-width="1.4"/>
<text x="270.00" y="396.60" font-size="7.4" font-weight="bold" text-anchor="end" stroke="#000" stroke-width="0.18">6</text>
<path d="M270.3 423.10H274.5" stroke="#000" stroke-width="1.4"/>
<text x="270.00" y="425.65" font-size="7.4" font-weight="bold" text-anchor="end" stroke="#000" stroke-width="0.18">4</text>
<path d="M270.3 452.15H274.5" stroke="#000" stroke-width="1.4"/>
<text x="270.00" y="454.70" font-size="7.4" font-weight="bold" text-anchor="end" stroke="#000" stroke-width="0.18">2</text>
<text x="270.00" y="483.75" font-size="7.4" font-weight="bold" text-anchor="end" stroke="#000" stroke-width="0.18">0</text>
<text transform="translate(258.4 486.4) rotate(-90)" font-size="9.38" font-weight="bold" stroke="#000" stroke-width="0.18">Log<tspan font-size="6" dy="1.8">2</tspan><tspan dy="-1.8">(PCV2 Neutralization titer)</tspan></text>
<rect x="464.2" y="369.20" width="9.8" height="5.3" fill="#ffffff" stroke="#000" stroke-width="1.0"/>
<text x="480.2" y="374.70" font-size="8.1">Mock</text>
<rect x="464.2" y="378.35" width="9.8" height="5.3" fill="#000000" stroke="#000" stroke-width="1.0"/>
<text x="480.2" y="383.85" font-size="8.1">PBS</text>
<rect x="464.2" y="387.50" width="9.8" height="5.3" fill="#9c9c9c" stroke="#000" stroke-width="1.0"/>
<text x="480.2" y="393.00" font-size="8.1">pCap3</text>
<rect x="464.2" y="396.65" width="9.8" height="5.3" fill="#ffa433" stroke="#000" stroke-width="1.0"/>
<text x="480.2" y="402.15" font-size="8.1">pCap3-Cap2E</text>
<rect x="464.2" y="405.80" width="9.8" height="5.3" fill="#9c4a0a" stroke="#000" stroke-width="1.0"/>
<text x="480.2" y="411.30" font-size="8.1">eCap3</text>
<rect x="464.2" y="414.95" width="9.8" height="5.3" fill="#10894a" stroke="#000" stroke-width="1.0"/>
<text x="480.2" y="420.45" font-size="8.1">eCap3-Cap2E</text>
<rect x="464.2" y="424.10" width="9.8" height="5.3" fill="#0d4a94" stroke="#000" stroke-width="1.0"/>
<text x="480.2" y="429.60" font-size="8.1">DNA</text>
<rect x="464.2" y="433.25" width="9.8" height="5.3" fill="#14a3ff" stroke="#000" stroke-width="1.0"/>
<text x="480.2" y="438.75" font-size="8.1">pCap3-Cap2E+DNA</text>
<rect x="464.2" y="442.40" width="9.8" height="5.3" fill="#5a0fa0" stroke="#000" stroke-width="1.0"/>
<text x="480.2" y="447.90" font-size="8.1">eCap3-Cap2E+DNA</text>
<text x="6.9" y="14" font-size="14" font-weight="bold" stroke="#000" stroke-width="0.18">A</text>
<text x="7.2" y="120.2" font-size="13.6" font-weight="bold" stroke="#000" stroke-width="0.18">B</text>
<text x="8.1" y="349.5" font-size="15" stroke="#000" stroke-width="0.35">C</text>
<path d="M53.8 29.8L472 28.3" stroke="#000" stroke-width="3" fill="none"/>
<path d="M479 28.3L470 24.2L472.2 28.3L470 32.5Z" fill="#000"/>
<path d="M82.25 36.8V21.6H80.3L84.3 18.1L88.3 21.6H86.35V36.8Z" fill="#000"/>
<path d="M178.14999999999998 36.8V21.6H176.2L180.2 18.1L184.2 21.6H182.25V36.8Z" fill="#000"/>
<text x="85.2" y="17.3" font-size="8.9" font-weight="bold" text-anchor="middle" stroke="#000" stroke-width="0.18">Prime</text>
<text x="180.2" y="17.3" font-size="8.9" font-weight="bold" text-anchor="middle" stroke="#000" stroke-width="0.18">Boost</text>
<text x="275.1" y="17.3" font-size="8.9" font-weight="bold" text-anchor="middle" stroke="#000" stroke-width="0.18">Spleen</text>
<text x="321.5" y="17.3" font-size="8.9" font-weight="bold" text-anchor="middle" stroke="#000" stroke-width="0.18">Spleen</text>
<path d="M270.7 28.3L275.7 21.1L280.7 28.3Z" fill="#f0000c" stroke="#1f3f93" stroke-width="0.7"/>
<path d="M317.4 28.1L322.4 20.900000000000002L327.4 28.1Z" fill="#f0000c" stroke="#1f3f93" stroke-width="0.7"/>
<path d="M438.2 29.6H447.6L442.9 36.8Z" fill="#1f78d1" stroke="#1f4fa3" stroke-width="0.5"/>
<text x="84.1" y="46.3" font-size="9.2" font-weight="bold" text-anchor="middle" fill="#000" stroke="#000" stroke-width="0.18">0</text>
<text x="132.5" y="46.3" font-size="9.2" font-weight="bold" text-anchor="middle" fill="#000" stroke="#000" stroke-width="0.18">7</text>
<text x="180.1" y="46.3" font-size="9.2" font-weight="bold" text-anchor="middle" fill="#000" stroke="#000" stroke-width="0.18">14</text>
<text x="229.6" y="46.3" font-size="9.2" font-weight="bold" text-anchor="middle" fill="#000" stroke="#000" stroke-width="0.18">21</text>
<text x="275.9" y="46.3" font-size="9.2" font-weight="bold" text-anchor="middle" fill="#f0000c" stroke="#f0000c" stroke-width="0.18">28</text>
<text x="322.0" y="46.3" font-size="9.2" font-weight="bold" text-anchor="middle" fill="#f0000c" stroke="#f0000c" stroke-width="0.18">35</text>
<text x="443.5" y="46.3" font-size="9.2" font-weight="bold" text-anchor="middle" fill="#2b7bd1" stroke="#2b7bd1" stroke-width="0.18">63</text>
<text x="465.3" y="46.6" font-size="11" font-weight="bold" stroke="#000" stroke-width="0.18">Days</text>
<text x="30" y="46.6" font-size="9" font-weight="bold" text-anchor="middle" stroke="#000" stroke-width="0.18">BALB/c</text>
<path d="M132.6 54.2C133.72 58.19 136.35 59.60 136.35 61.85A3.75 3.75 0 0 1 128.85 61.85C128.85 59.60 131.47 58.19 132.6 54.2Z" fill="#e8000b" stroke="#1b2f7d" stroke-width="0.8"/>
<path d="M180.0 54.2C181.12 58.19 183.75 59.60 183.75 61.85A3.75 3.75 0 0 1 176.25 61.85C176.25 59.60 178.88 58.19 180.0 54.2Z" fill="#e8000b" stroke="#1b2f7d" stroke-width="0.8"/>
<path d="M229.5 54.2C230.62 58.19 233.25 59.60 233.25 61.85A3.75 3.75 0 0 1 225.75 61.85C225.75 59.60 228.38 58.19 229.5 54.2Z" fill="#e8000b" stroke="#1b2f7d" stroke-width="0.8"/>
<path d="M276.4 54.2C277.52 58.19 280.15 59.60 280.15 61.85A3.75 3.75 0 0 1 272.65 61.85C272.65 59.60 275.27 58.19 276.4 54.2Z" fill="#e8000b" stroke="#1b2f7d" stroke-width="0.8"/>
<path d="M322.8 54.2C323.93 58.19 326.55 59.60 326.55 61.85A3.75 3.75 0 0 1 319.05 61.85C319.05 59.60 321.68 58.19 322.8 54.2Z" fill="#e8000b" stroke="#1b2f7d" stroke-width="0.8"/>
<path d="M416.3 75.6C417.20 78.36 419.30 78.70 419.30 80.50A3.0 3.0 0 0 1 413.30 80.50C413.30 78.70 415.40 78.36 416.3 75.6Z" fill="#e8000b" stroke="#1b2f7d" stroke-width="0.8"/>
<path d="M413.1 97.4H421L417.05 103.3Z" fill="#1f78d1" stroke="#1f4fa3" stroke-width="0.5"/>
<text x="429.6" y="82.7" font-size="7.7" font-weight="bold" stroke="#000" stroke-width="0.18">Bleed and ELISA</text>
<text x="429.6" y="103.6" font-size="7.7" font-weight="bold" stroke="#000" stroke-width="0.18">Viral load and HE</text>
<path d="M321.9 72.6H325.9V83.5H328L323.9 88L319.8 83.5H321.9Z" fill="#f0000c" stroke="#1b2f7d" stroke-width="0.75"/>
<text x="320.2" y="103.1" font-size="8.9" font-weight="bold" text-anchor="middle" stroke="#000" stroke-width="0.18">Challenge PCV3</text>
<path d="M20.3 21.6C20.7 18.6 23.2 17.2 26 17.2C29 17.2 31 17.9 33.5 17.8C36.5 17.7 39 17.4 42.4 18.1" stroke="#ee6868" stroke-width="1.0" fill="none"/>
<path d="M22 22.5C23 19 27 17.8 30 18.8C33 19.8 34.4 23 34 26.5C33.8 29 33.5 31.5 31.5 32.3C29 33 26 32 24 30.5C22 29 21.2 25.5 22 22.5Z" fill="#fce4e0"/>
<ellipse cx="28.9" cy="25.6" rx="2.4" ry="2.9" fill="#f8cfc9"/>
<circle cx="22.7" cy="29.4" r="1.15" fill="#ea4b4b"/><circle cx="27.9" cy="31.9" r="1.15" fill="#ea4b4b"/><circle cx="31.8" cy="32.2" r="1.1" fill="#ea4b4b"/><circle cx="32.8" cy="30" r="0.9" fill="#ee6a6a"/><circle cx="29.9" cy="29.9" r="0.8" fill="#f08080"/>
<path d="M30.7 19.4L34.3 16.9" stroke="#9aa3b5" stroke-width="0.8"/><path d="M34 17.1L49.8 6.9" stroke="#1f4590" stroke-width="1.2"/>
</svg></body></html>
